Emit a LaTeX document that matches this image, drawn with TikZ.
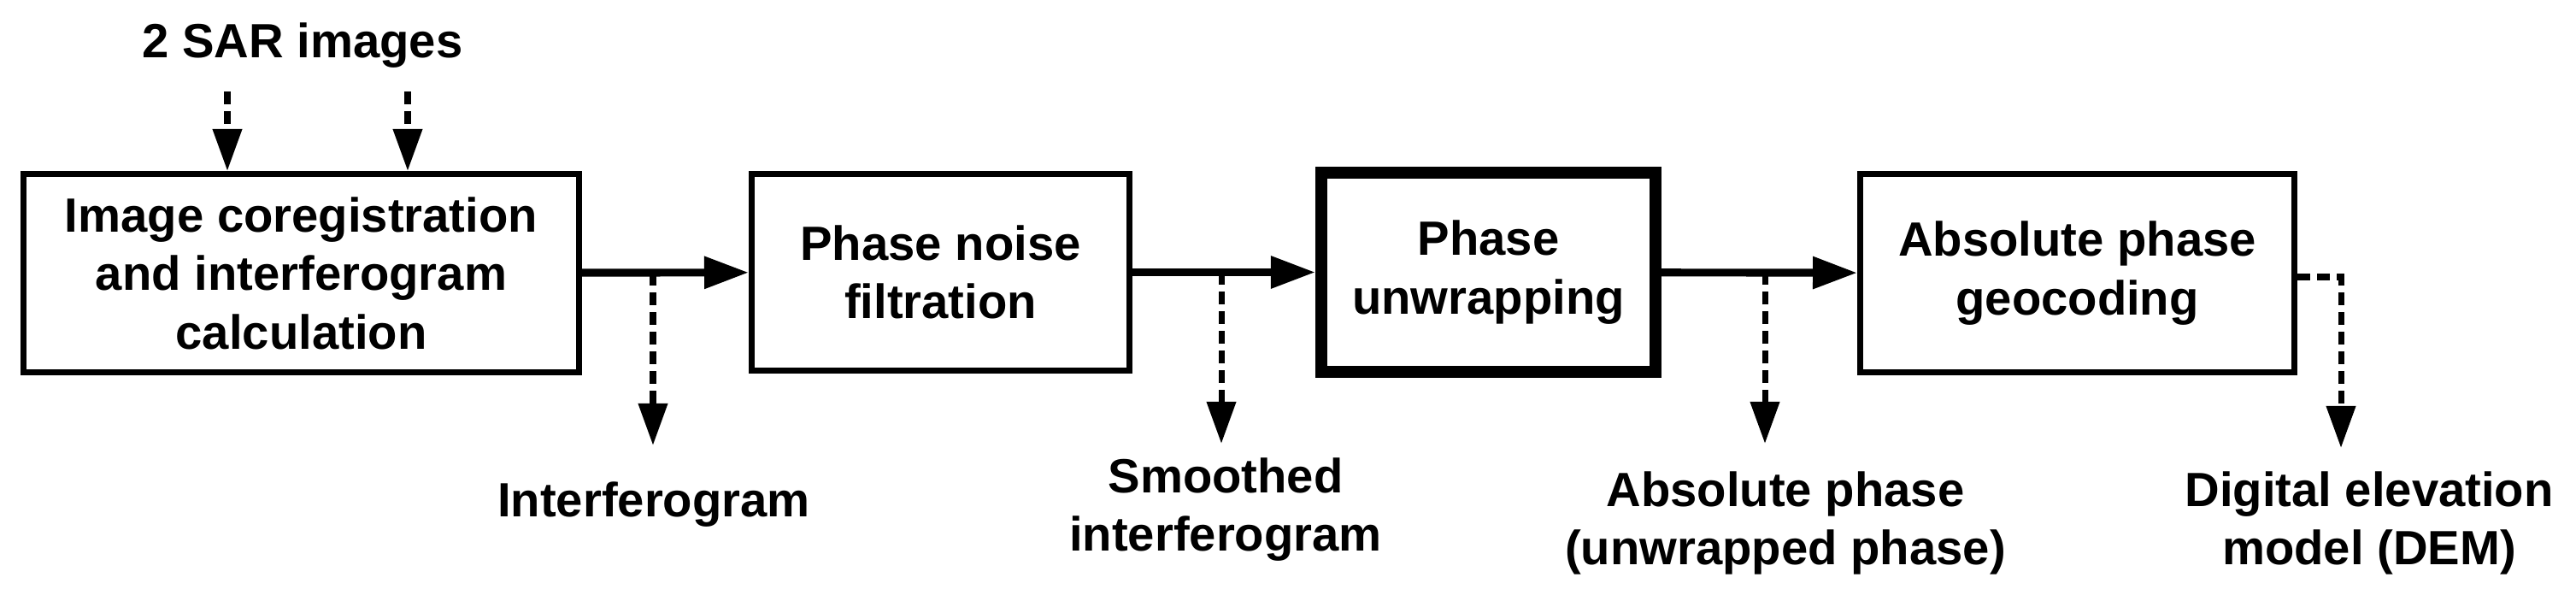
\documentclass[tikz,border=0pt]{standalone}
\usepackage{fontspec}
\setmainfont{Liberation Sans}
\usetikzlibrary{arrows.meta}
\begin{document}
\begin{tikzpicture}[
    txt/.style={font=\bfseries\fontsize{16}{19.5}\selectfont, align=center, inner sep=0pt},
    box/.style={txt, draw, line width=2pt},
    flow/.style={line width=2.6pt, -{Triangle[length=0.52cm, width=0.36cm]}},
    side/.style={line width=2pt, dash pattern=on 0.15cm off 0.08cm, -{Triangle[length=0.49cm, width=0.33cm]}}
  ]
  \useasboundingbox (0,0) rectangle (30.14,6.96);

  \node[box, minimum width=6.50cm, minimum height=2.32cm] (b1) at (3.525,3.765)
    {Image coregistration\\and interferogram\\calculation};
  \node[box, minimum width=4.42cm, minimum height=2.30cm] (b2) at (11.005,3.775)
    {Phase noise\\filtration};
  \node[box, line width=4pt, minimum width=3.91cm, minimum height=2.33cm] (b3) at (17.415,3.775)
    {Phase\\unwrapping};
  \node[box, minimum width=5.08cm, minimum height=2.32cm] (b4) at (24.305,3.765)
    {Absolute phase\\geocoding};

  \node[txt] (sar) at (3.54,6.43) {2 SAR images};
  \node[txt] (l1) at (7.65,1.06) {Interferogram};
  \node[txt] (l2) at (14.34,1.00) {Smoothed\\interferogram};
  \node[txt] (l3) at (20.89,0.84) {Absolute phase\\(unwrapped phase)};
  \node[txt] (l4) at (27.72,0.84) {Digital elevation\\model (DEM)};

  \coordinate (i1) at (2.66,5.89);
  \coordinate (i2) at (4.77,5.89);
  \coordinate (d1) at (7.64,3.765);
  \coordinate (d2) at (14.29,3.775);
  \coordinate (d3) at (20.65,3.775);
  \coordinate (d4) at (27.39,3.72);
  \coordinate (e1) at (7.64,1.75);
  \coordinate (e2) at (14.29,1.77);
  \coordinate (e3) at (20.65,1.77);
  \coordinate (e4) at (27.39,1.72);

  \draw[side] (i1) -- (i1 |- b1.north);
  \draw[side] (i2) -- (i2 |- b1.north);

  \draw[flow] (b1) -- (b2);
  \draw[flow] (b2) -- (b3);
  \draw[flow] (b3) -- (b4);

  \draw[side] (d1) -- (e1);
  \draw[side] (d2) -- (e2);
  \draw[side] (d3) -- (e3);
  \draw[side] (b4.east |- d4) -- (d4) -- (e4);
\end{tikzpicture}
\end{document}
